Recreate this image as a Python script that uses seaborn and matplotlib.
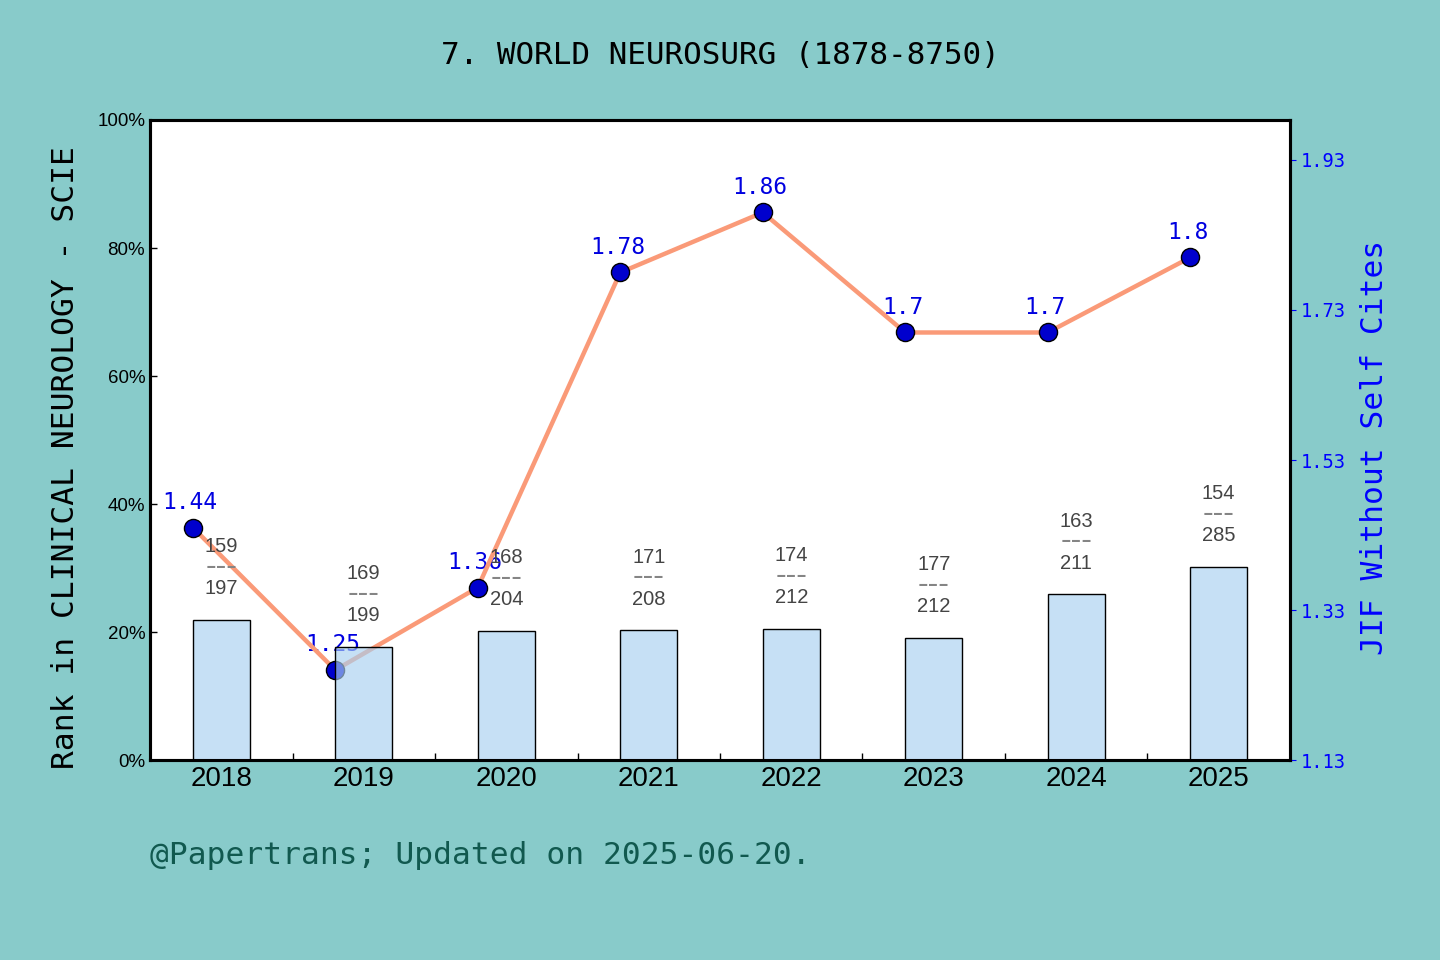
import seaborn as sns
import numpy as np
import pandas as pd
import matplotlib.pyplot as plt
from matplotlib.ticker import FuncFormatter, FixedLocator

# data
years = ['2018', '2019', '2020', '2021', '2022', '2023', '2024', '2025']
rank_pct = [21.9, 17.7, 20.2, 20.3, 20.5, 19.1, 25.9, 30.2]
ranks = [159, 169, 168, 171, 174, 177, 163, 154]
totals = [197, 199, 204, 208, 212, 212, 211, 285]
jif = [1.44, 1.25, 1.36, 1.78, 1.86, 1.70, 1.70, 1.80]
jif_ticks = [1.13, 1.33, 1.53, 1.73, 1.93]

df = pd.DataFrame({'year': years, 'pct': rank_pct, 'jif': jif})

bg = '#88CBCA'
mono = 'DejaVu Sans Mono'
sans = 'Liberation Sans'
bar_w = 0.4

fig = plt.figure(figsize=(14.4, 9.6), dpi=100, facecolor=bg)
ax = fig.add_axes([0.1042, 0.2083, 0.7916, 0.6667])
ax2 = ax.twinx()

# line axis sits under the bar axis
ax.set_zorder(2)
ax.patch.set_visible(False)
ax2.set_zorder(1)
ax2.patch.set_visible(True)
ax2.patch.set_facecolor('white')

# JIF line (points sit on the left edge of each bar)
xpos = np.arange(len(years))
xline = xpos - bar_w / 2
ax2.plot(xline, df['jif'], color='#FA9A78', lw=3.2, zorder=2)
sns.scatterplot(x=xline, y=df['jif'], ax=ax2, s=170, color='#0000CD',
                edgecolor='black', linewidth=1, zorder=3, legend=False)
for x, v in zip(xline, jif):
    ax2.annotate(f'{v:g}', (x, v), xytext=(-2, 10), textcoords='offset points',
                 ha='center', va='bottom', fontsize=16.5, family=mono,
                 color='#0000E0', zorder=1)
ax2.set_ylim(1.13, 1.9833)
ax2.yaxis.set_major_locator(FixedLocator(jif_ticks))
ax2.yaxis.set_major_formatter(FuncFormatter(lambda v, p: f'{v:.2f}'))
ax2.tick_params(axis='y', colors='#0000FF', labelsize=13.5, direction='out', length=4)
for lab in ax2.get_yticklabels():
    lab.set_family(mono)
ax2.set_ylabel('JIF Without Self Cites', fontsize=22.5, family=mono, color='#0000FF')
ax2.yaxis.set_label_coords(1.0614, 0.489)

# rank bars
sns.barplot(data=df, x='year', y='pct', ax=ax, width=bar_w, color='#A8D0F1',
            saturation=1)
for patch in ax.patches:
    patch.set_alpha(None)
    patch.set_facecolor((168 / 255, 208 / 255, 241 / 255, 0.65))
    patch.set_edgecolor('black')
    patch.set_linewidth(1)
for x, p, r, t in zip(xpos, rank_pct, ranks, totals):
    ax.annotate(str(r), (x, p), xytext=(0, 52.5), textcoords='offset points',
                ha='center', va='center', fontsize=14.5, family=sans, color='#444444')
    ax.annotate('---', (x, p), xytext=(0, 38), textcoords='offset points',
                ha='center', va='center', fontsize=23, family=sans, color='#858585')
    ax.annotate(str(t), (x, p), xytext=(0, 22.3), textcoords='offset points',
                ha='center', va='center', fontsize=14.5, family=sans, color='#444444')
ax.set_xlim(-0.5, 7.5)
ax.set_ylim(0, 100)
ax.set_yticks(np.arange(0, 101, 20))
ax.yaxis.set_major_formatter(FuncFormatter(lambda v, p: f'{v:.0f}%'))
ax.tick_params(axis='y', direction='in', length=5, labelsize=13.5, width=1)
ax.tick_params(axis='x', length=0, labelsize=20, pad=4)
ax.set_xticks(np.arange(0.5, 7, 1), minor=True)
ax.tick_params(axis='x', which='minor', direction='in', length=5, width=1)
for lab in ax.get_yticklabels() + ax.get_xticklabels():
    lab.set_family(sans)
ax.set_xlabel('')
ax.set_ylabel('Rank in CLINICAL NEUROLOGY - SCIE', fontsize=22.5, family=mono,
              color='black')
ax.yaxis.set_label_coords(-0.0615, 0.473)

for a in (ax, ax2):
    for s in a.spines.values():
        s.set_linewidth(2.2)
        s.set_color('black')

fig.text(0.5, 0.942, '7. WORLD NEUROSURG (1878-8750)', ha='center', va='center',
         fontsize=22.3, family=mono, color='black')
fig.text(0.104, 0.109, '@Papertrans; Updated on 2025-06-20.', ha='left', va='center',
         fontsize=22.5, family=mono, color='#11594F')

fig.savefig('out.png', dpi=100, facecolor=bg)
